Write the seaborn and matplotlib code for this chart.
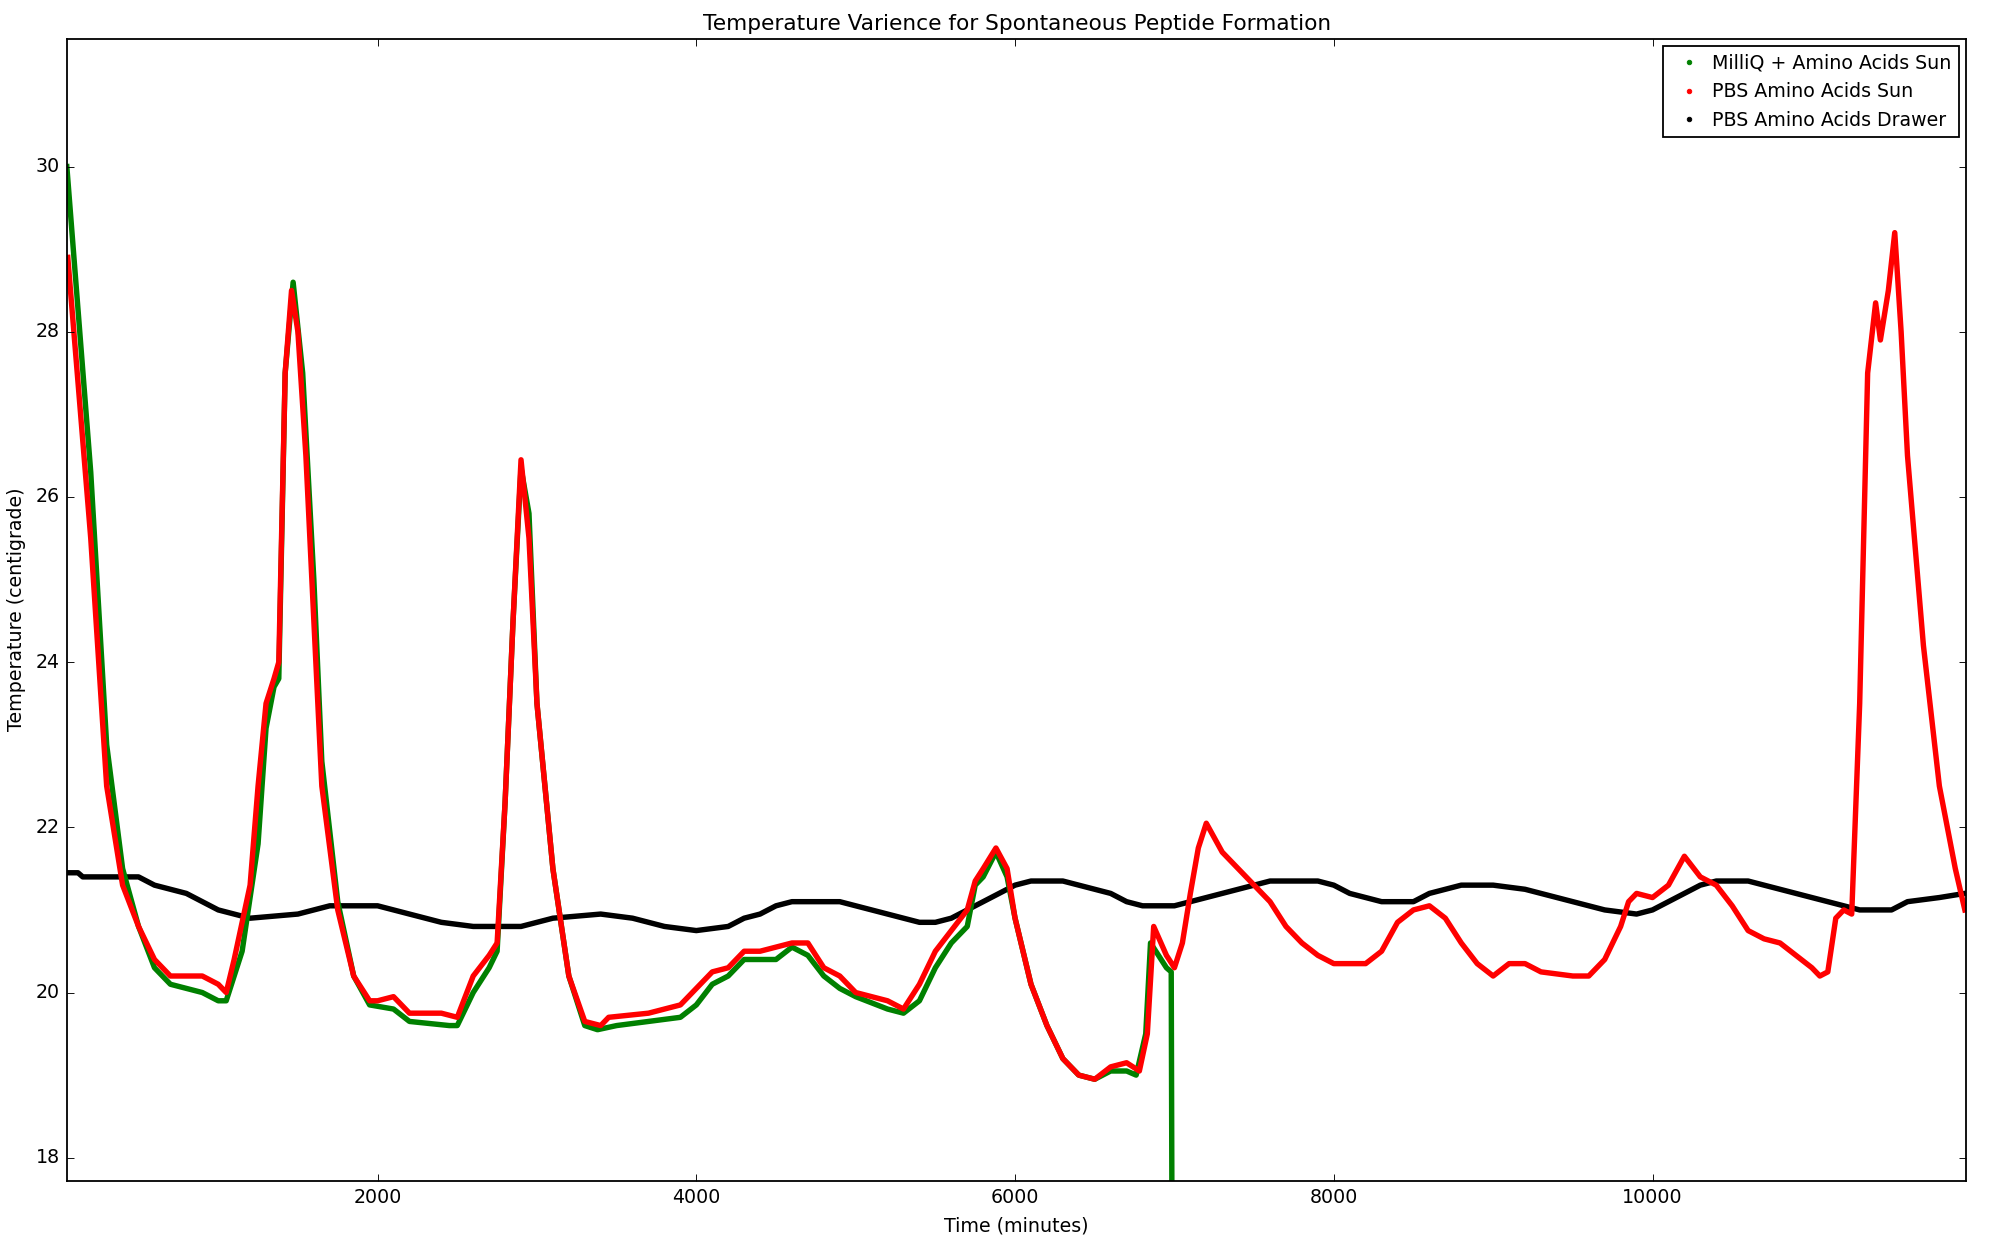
import matplotlib
matplotlib.use("Agg")
import matplotlib.pyplot as plt
import seaborn as sns
from matplotlib.lines import Line2D

plt.style.use('classic')
plt.rcParams['font.size'] = 10.5

red_t = [56,200,300,400,500,600,700,900,1000,1050,1100,1200,1250,1300,1350,1380,1420,1460,1500,1550,1600,1650,1750,1850,1950,2000,2100,2200,2400,2500,2600,2700,2750,2800,2850,2900,2950,3000,3100,3200,3300,3400,3450,3700,3900,4000,4100,4200,4300,4400,4500,4600,4700,4800,4900,5000,5200,5300,5400,5500,5600,5700,5750,5800,5880,5950,6000,6100,6200,6300,6400,6500,6600,6700,6780,6830,6870,6950,7000,7050,7100,7150,7200,7300,7400,7500,7600,7700,7800,7900,8000,8200,8300,8400,8500,8600,8700,8800,8900,9000,9100,9200,9300,9500,9600,9700,9800,9850,9900,10000,10100,10200,10300,10400,10500,10600,10700,10800,10900,11000,11050,11100,11150,11200,11250,11300,11350,11400,11430,11480,11520,11560,11600,11700,11800,11900,11960]
red_v = [28.9,25.5,22.5,21.3,20.8,20.4,20.2,20.2,20.1,20.0,20.4,21.3,22.5,23.5,23.8,24.0,27.5,28.5,28.0,26.5,24.5,22.5,21.0,20.2,19.9,19.9,19.95,19.75,19.75,19.7,20.2,20.45,20.6,22.3,24.5,26.45,25.5,23.5,21.5,20.2,19.65,19.6,19.7,19.75,19.85,20.05,20.25,20.3,20.5,20.5,20.55,20.6,20.6,20.3,20.2,20.0,19.9,19.8,20.1,20.5,20.75,21.0,21.35,21.5,21.75,21.5,20.9,20.1,19.6,19.2,19.0,18.95,19.1,19.15,19.05,19.5,20.8,20.45,20.3,20.6,21.2,21.75,22.05,21.7,21.5,21.3,21.1,20.8,20.6,20.45,20.35,20.35,20.5,20.85,21.0,21.05,20.9,20.6,20.35,20.2,20.35,20.35,20.25,20.2,20.2,20.4,20.8,21.1,21.2,21.15,21.3,21.65,21.4,21.3,21.05,20.75,20.65,20.6,20.45,20.3,20.2,20.25,20.9,21.0,20.95,23.5,27.5,28.35,27.9,28.5,29.2,28.0,26.5,24.2,22.5,21.5,21.0]

green_t = [50,200,300,400,500,600,700,900,1000,1050,1150,1250,1300,1350,1380,1420,1470,1530,1600,1650,1750,1850,1950,2100,2200,2450,2500,2600,2700,2750,2800,2850,2900,2950,3000,3100,3200,3300,3380,3500,3700,3900,4000,4100,4200,4300,4400,4500,4600,4700,4800,4900,5000,5200,5300,5400,5500,5600,5700,5750,5800,5880,5950,6000,6100,6200,6300,6400,6500,6600,6700,6760,6820,6850,6950,6980,6985]
green_v = [30.0,26.3,23.0,21.5,20.8,20.3,20.1,20.0,19.9,19.9,20.5,21.8,23.2,23.7,23.8,27.5,28.6,27.5,25.0,22.8,21.1,20.2,19.85,19.8,19.65,19.6,19.6,20.0,20.3,20.5,22.3,24.5,26.35,25.8,23.5,21.5,20.2,19.6,19.55,19.6,19.65,19.7,19.85,20.1,20.2,20.4,20.4,20.4,20.55,20.45,20.2,20.05,19.95,19.8,19.75,19.9,20.3,20.6,20.8,21.3,21.4,21.7,21.4,20.9,20.1,19.6,19.2,19.0,18.95,19.05,19.05,19.0,19.5,20.6,20.3,20.25,17.0]

black_t = [50,120,150,500,600,700,800,900,1000,1100,1200,1500,1600,1700,2000,2100,2200,2300,2400,2600,2900,3000,3100,3400,3600,3700,3800,4000,4200,4300,4400,4500,4600,4900,5000,5200,5300,5400,5500,5600,5700,5800,5900,6000,6100,6300,6400,6500,6600,6700,6800,6900,7000,7100,7200,7400,7500,7600,7900,8000,8100,8200,8300,8500,8600,8800,9000,9200,9300,9500,9700,9900,10000,10100,10200,10300,10400,10600,10700,10900,11100,11200,11300,11500,11600,11800,11960]
black_v = [21.45,21.45,21.4,21.4,21.3,21.25,21.2,21.1,21.0,20.95,20.9,20.95,21.0,21.05,21.05,21.0,20.95,20.9,20.85,20.8,20.8,20.85,20.9,20.95,20.9,20.85,20.8,20.75,20.8,20.9,20.95,21.05,21.1,21.1,21.05,20.95,20.9,20.85,20.85,20.9,21.0,21.1,21.2,21.3,21.35,21.35,21.3,21.25,21.2,21.1,21.05,21.05,21.05,21.1,21.15,21.25,21.3,21.35,21.35,21.3,21.2,21.15,21.1,21.1,21.2,21.3,21.3,21.25,21.2,21.1,21.0,20.95,21.0,21.1,21.2,21.3,21.35,21.35,21.3,21.2,21.1,21.05,21.0,21.0,21.1,21.15,21.2]

labels = ["MilliQ + Amino Acids Sun", "PBS Amino Acids Sun", "PBS Amino Acids Drawer"]
colors = [(0, 0.5, 0), "red", "black"]

fig = plt.figure(figsize=(2007/130, 1243/130), dpi=130, facecolor='white')
ax = fig.add_axes([0.0333, 0.05, 0.9465, 0.919])
for t, v, c in [(black_t, black_v, colors[2]), (green_t, green_v, colors[0]), (red_t, red_v, colors[1])]:
    sns.lineplot(x=t, y=v, color=c, linewidth=3, ax=ax, sort=False, estimator=None)

ax.set_xlim(50, 11970)
ax.set_ylim(17.72, 31.55)
ax.set_xticks([2000, 4000, 6000, 8000, 10000])
ax.set_yticks([18, 20, 22, 24, 26, 28, 30])
ax.set_title("Temperature Varience for Spontaneous Peptide Formation", fontsize=12)
ax.set_xlabel("Time (minutes)")
ax.set_ylabel("Temperature (centigrade)")
handles = [Line2D([], [], color=c, marker='.', linestyle='None', markersize=5) for c in colors]
ax.legend(handles, labels, loc='upper right', numpoints=1, fontsize=10.5, handletextpad=0.2, borderaxespad=0.4)
fig.savefig("out.png", dpi=130, facecolor='white')
